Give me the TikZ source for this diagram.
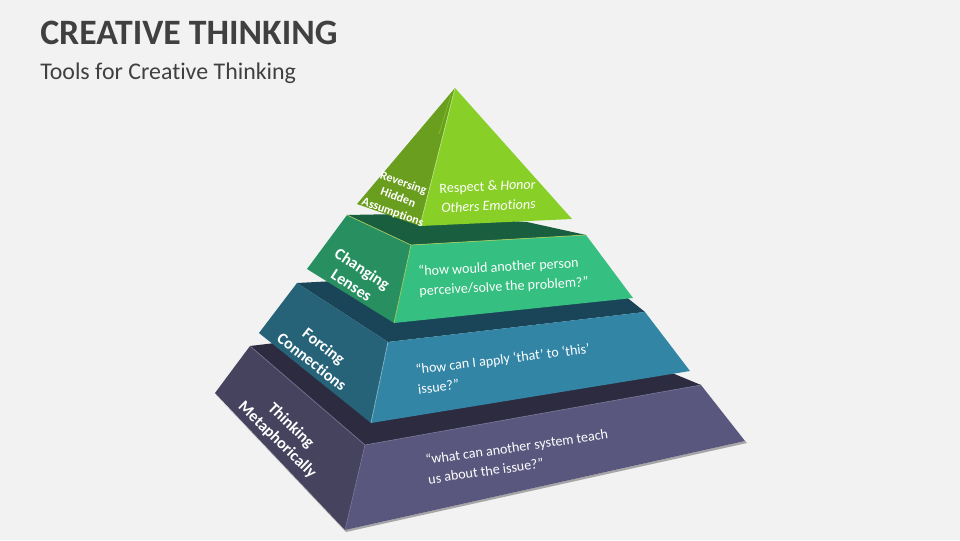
\documentclass[tikz,border=0pt]{standalone}
\usepackage{fontspec}
\setmainfont[Ligatures=CommonOff]{Carlito}
\usepackage{tikz}

\definecolor{paper}{HTML}{F2F2F2}
\definecolor{inktitle}{HTML}{404040}
\definecolor{limefront}{HTML}{88D028}
\definecolor{limeleft}{HTML}{6A9E1E}
\definecolor{greenfront}{HTML}{35BF80}
\definecolor{greenleft}{HTML}{289060}
\definecolor{greentop}{HTML}{1A5E40}
\definecolor{tealfront}{HTML}{3385A6}
\definecolor{tealleft}{HTML}{266379}
\definecolor{tealtop}{HTML}{1A4558}
\definecolor{purplefront}{HTML}{5A577E}
\definecolor{purpleleft}{HTML}{46435F}
\definecolor{purpletop}{HTML}{2D2B40}

\tikzset{
  sidetext/.style={text=white,font=\fontsize{11.5}{14}\selectfont\bfseries,align=center},
  fronttext/.style={text=white,font=\fontsize{10}{14}\selectfont,align=left,anchor=west},
  edgeline/.style={line width=0.5pt}
}

\begin{document}
\begin{tikzpicture}[x=0.025cm,y=-0.025cm]

\useasboundingbox (0,0) rectangle (960,540);
\fill[color=paper] (0,0) rectangle (960,540);

\node[anchor=west,text=inktitle,font=\fontsize{25.4}{25}\selectfont\bfseries,inner sep=0pt] (title) at (40,33) {CREATIVE THINKING};
\node[anchor=west,text=inktitle,font=\fontsize{17}{17}\selectfont,inner sep=0pt] (subtitle) at (40,73) {Tools for Creative Thinking};

% bottom tier
\fill[color=black!35] (216,395) -- (346,532) -- (747,443) -- (745,441) -- (345,530) -- cycle;
\fill[color=purpletop] (250,346) -- (300,340) -- (660,368) -- (701,385) -- (365,445) -- cycle;
\fill[color=purpleleft] (250,346) -- (365,445) -- (345,530) -- (215,393) -- cycle;
\fill[color=purplefront] (365,445) -- (701,385) -- (745,441) -- (345,530) -- cycle;
\draw[edgeline,color=purplefront!85!white] (365,445) -- (345,530);
\draw[edgeline,color=purplefront!85!white] (250,346) -- (365,445) -- (701,385);

% third tier
\fill[color=tealtop] (297,283) -- (335,281) -- (620,292) -- (645,312) -- (388,342) -- cycle;
\fill[color=tealleft] (297,283) -- (388,342) -- (371,423) -- (259,333) -- cycle;
\fill[color=tealfront] (388,342) -- (645,312) -- (690,371) -- (371,423) -- cycle;
\draw[edgeline,color=tealfront!60!white] (388,342) -- (371,423);

% second tier
\fill[color=greentop] (347,215) -- (400,214) -- (527,222) -- (586,235) -- (411,245) -- cycle;
\fill[color=greenleft] (347,215) -- (411,245) -- (394,323) -- (307,269) -- cycle;
\fill[color=greenfront] (411,245) -- (586,235) -- (633,298) -- (394,323) -- cycle;
\draw[edgeline,color=yellow!50!greenfront] (347,215) -- (411,245) -- (586,235);
\draw[edgeline,color=yellow!50!greenfront] (411,245) -- (394,323);

% top tier
\fill[color=limeleft] (455,88) -- (420,226) -- (357,204) -- cycle;
\fill[color=limefront] (455,88) -- (572,219) -- (420,226) -- cycle;
\draw[edgeline,color=limefront!60!white] (455,88) -- (420,226);
\draw[edgeline,color=limefront!70!limeleft] (451,95) -- (439,134);

\node[sidetext,font=\fontsize{8.6}{11}\selectfont\bfseries,rotate=-20] (reversing) at (398,198) {Reversing\\Hidden\\Assumptions};
\node[text=white,font=\fontsize{10}{14}\selectfont,align=center,rotate=2.5] (respect) at (488,196) {Respect \& \textit{Honor}\\\textit{Others Emotions}};
\node[sidetext,rotate=-33] (changing) at (357,277) {Changing\\Lenses};
\node[fronttext,rotate=3] (person) at (414,282) {“how would another person\\perceive/solve the problem?”};
\node[sidetext,rotate=-38] (forcing) at (318,354) {Forcing\\Connections};
\node[fronttext,rotate=7] (apply) at (412,380) {“how can I apply ‘that’ to ‘this’\\issue?”};
\node[sidetext,rotate=-44] (thinking) at (284,433) {Thinking\\Metaphorically};
\node[fronttext,rotate=8] (system) at (422,470) {“what can another system teach\\us about the issue?”};

\end{tikzpicture}
\end{document}
